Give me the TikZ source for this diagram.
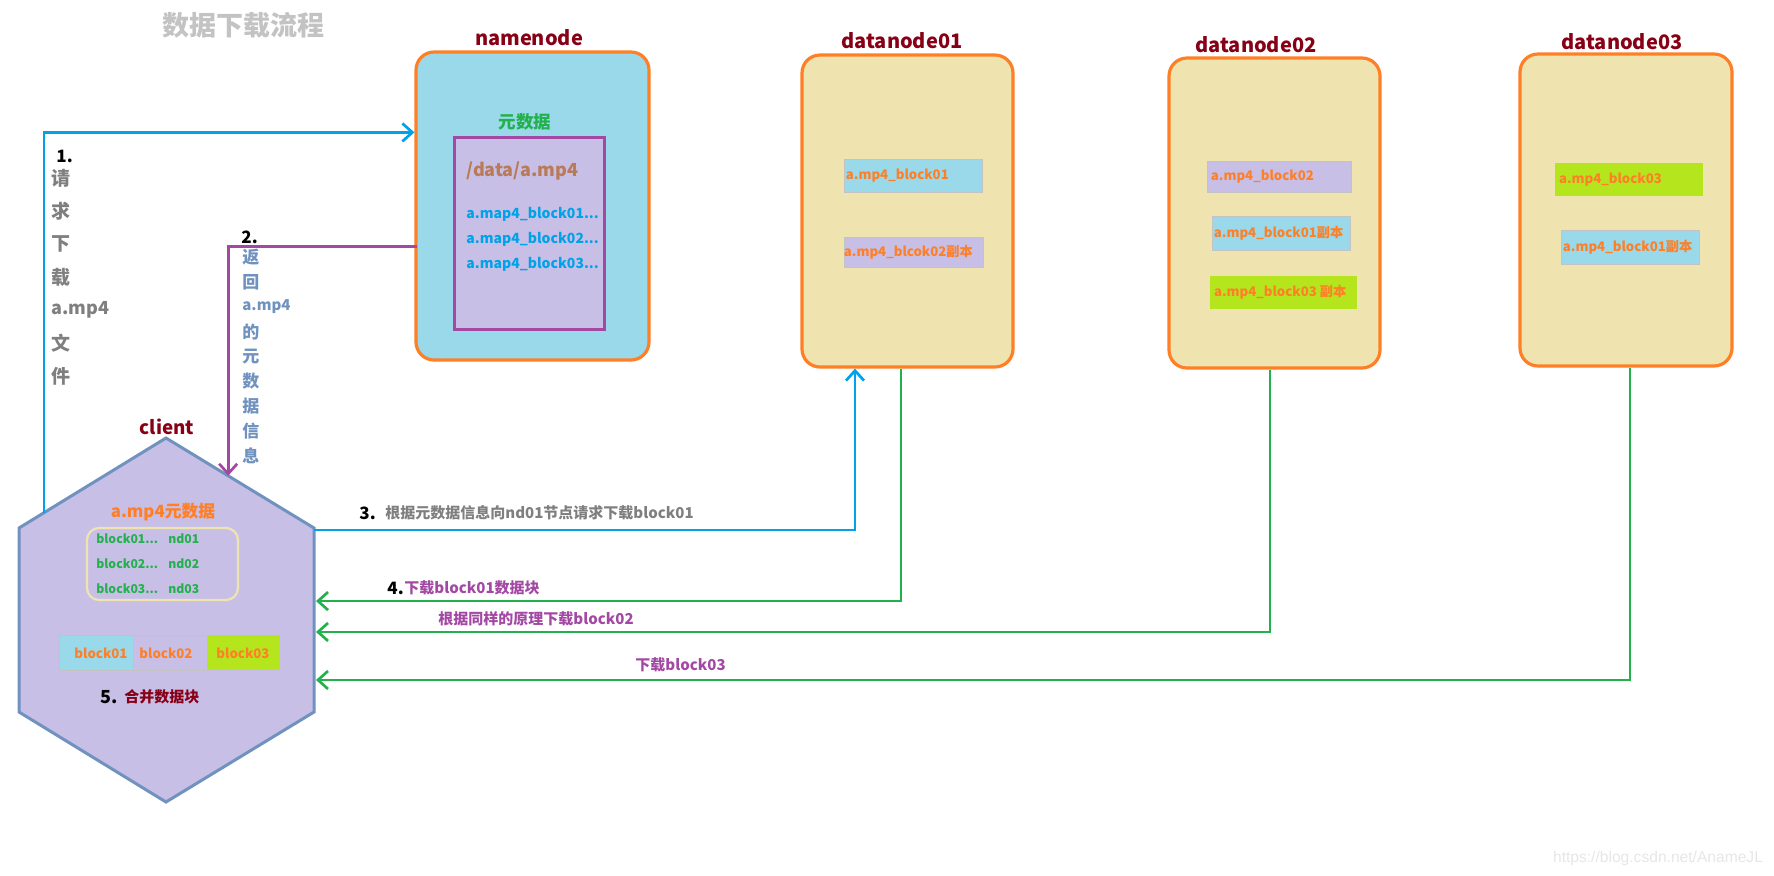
\documentclass[tikz,border=0pt]{standalone}
\usepackage{fontspec}
\setmainfont{Noto Sans CJK SC}
\newfontfamily\wmfont{Liberation Sans}
\usetikzlibrary{arrows.meta,fit,calc}
\definecolor{cyanfill}{HTML}{99D9EA}
\definecolor{orangeC}{HTML}{FF7F27}
\definecolor{lilac}{HTML}{C8BFE7}
\definecolor{plum}{HTML}{A349A4}
\definecolor{tanC}{HTML}{EFE4B0}
\definecolor{limeC}{HTML}{B5E61D}
\definecolor{greenC}{HTML}{22B14C}
\definecolor{blueC}{HTML}{00A2E8}
\definecolor{darkredC}{HTML}{880015}
\definecolor{steel}{HTML}{7092BE}
\definecolor{grayC}{HTML}{7F7F7F}
\definecolor{titlegray}{HTML}{C3C3C3}
\definecolor{brownC}{HTML}{B97A57}
\definecolor{edgegray}{HTML}{C3C3C3}
\definecolor{wmgray}{HTML}{E6E6E6}
\newcommand\fsz[1]{\fontsize{#1}{#1}\selectfont\bfseries}
\begin{document}
\begin{tikzpicture}[x=0.5pt,y=-0.5pt,
  txt/.style={inner sep=0pt},
  store/.style={draw=orangeC, line width=1.6pt, rounded corners=9pt, inner sep=0pt},
  blk/.style={draw=edgegray, line width=0.5pt, inner sep=0pt},
  blklbl/.style={txt, anchor=west, text=orangeC, font=\fsz{6.6pt}},
  conn/.style={line width=1.35pt, -{Straight Barb[length=5pt,width=9pt]}},
  numlbl/.style={txt, anchor=west, text=black, font=\fsz{8.5pt}},
  ]
\useasboundingbox (0,0) rectangle (1774,875);

% title
\node[txt, text=titlegray, font=\fsz{13.5pt}] (title) at (243,25) {数据下载流程};

% namenode
\node[store, fill=cyanfill, fit={(416,52) (649,360)}] (nn) {};
\node[txt, text=darkredC, font=\fsz{10pt}] (nnlbl) at (529,38) {namenode};
\node[txt, text=greenC, font=\fsz{8.75pt}] (meta) at (525,122) {元数据};
\node[draw=plum, line width=1.5pt, fill=lilac, inner sep=0pt, fit={(454,137) (604,329)}] (mbox) {};
\node[txt, anchor=west, text=brownC, font=\fsz{9pt}] (fpath) at (466,171) {/data/a.mp4};
\foreach \i/\yy in {1/214,2/239,3/264}
  \node[txt, anchor=west, text=blueC, font=\fsz{7pt}] (mb\i) at (466,\yy) {a.map4\_block0\i...};

% datanodes
\node[store, fill=tanC, fit={(802,55) (1013,367)}] (dn1) {};
\node[store, fill=tanC, fit={(1169,58) (1380,368)}] (dn2) {};
\node[store, fill=tanC, fit={(1520,54) (1732,366)}] (dn3) {};
\node[txt, text=darkredC, font=\fsz{10pt}] (dn1lbl) at (902,41) {datanode01};
\node[txt, text=darkredC, font=\fsz{10pt}] (dn2lbl) at (1256,45) {datanode02};
\node[txt, text=darkredC, font=\fsz{10pt}] (dn3lbl) at (1622,42) {datanode03};

\node[blk, fill=cyanfill, fit={(844,159) (982,192)}] (d1b1) {};
\node[blklbl] (d1b1t) at ([xshift=1pt]d1b1.west) {a.mp4\_block01};
\node[blk, fill=lilac, fit={(844,237) (983,267)}] (d1b2) {};
\node[blklbl] (d1b2t) at ([xshift=0pt]d1b2.west) {a.mp4\_blcok02副本};

\node[blk, fill=lilac, fit={(1207,161) (1351,192)}] (d2b1) {};
\node[blklbl] (d2b1t) at ([xshift=2pt]d2b1.west) {a.mp4\_block02};
\node[blk, fill=cyanfill, fit={(1212,216) (1350,250)}] (d2b2) {};
\node[blklbl] (d2b2t) at ([xshift=1pt]d2b2.west) {a.mp4\_block01副本};
\node[inner sep=0pt, fill=limeC, fit={(1210,276) (1357,309)}] (d2b3) {};
\node[blklbl] (d2b3t) at ([xshift=2pt]d2b3.west) {a.mp4\_block03 副本};

\node[inner sep=0pt, fill=limeC, fit={(1555,163) (1703,196)}] (d3b1) {};
\node[blklbl] (d3b1t) at ([xshift=2pt]d3b1.west) {a.mp4\_block03};
\node[blk, fill=cyanfill, fit={(1561,230) (1699,264)}] (d3b2) {};
\node[blklbl] (d3b2t) at ([xshift=1pt]d3b2.west) {a.mp4\_block01副本};

% client hexagon
\coordinate (hx-t) at (166,438);
\coordinate (hx-ur) at (314,528);
\coordinate (hx-lr) at (314,712);
\coordinate (hx-b) at (166,802);
\coordinate (hx-ll) at (19,712);
\coordinate (hx-ul) at (19,528);
\draw[draw=steel, line width=1.5pt, fill=lilac] (hx-t) -- (hx-ur) -- (hx-lr) -- (hx-b) -- (hx-ll) -- (hx-ul) -- cycle;
\node[txt, text=darkredC, font=\fsz{9.4pt}] (cllbl) at (167,427) {client};
\node[txt, text=orangeC, font=\fsz{8.4pt}] (clmeta) at (163,512) {a.mp4元数据};
\node[draw=tanC, line width=1.1pt, rounded corners=6pt, inner sep=0pt, fit={(87,528) (238,600)}] (clbox) {};
\foreach \i/\yy in {1/539,2/564,3/589}{
  \node[txt, anchor=west, text=greenC, font=\fsz{6.1pt}] (clb\i) at (96,\yy) {block0\i...};
  \node[txt, anchor=west, text=greenC, font=\fsz{6.1pt}] (cln\i) at (168,\yy) {nd0\i};
}
\node[blk, fill=cyanfill, fit={(59,635) (133,670)}] (cb1) {};
\node[blk, fill=lilac, fit={(133,635) (207,670)}] (cb2) {};
\node[inner sep=0pt, fill=limeC, fit={(207,635) (280,670)}] (cb3) {};
\node[txt, text=orangeC, font=\fsz{6.6pt}] (cb1t) at (101,653) {block01};
\node[txt, text=orangeC, font=\fsz{6.6pt}] (cb2t) at (166,653) {block02};
\node[txt, text=orangeC, font=\fsz{6.6pt}] (cb3t) at (243,653) {block03};
\node[numlbl, font=\fsz{9pt}] (n5) at (100,697) {5.};
\node[txt, anchor=west, text=darkredC, font=\fsz{7.5pt}] (n5t) at (124,697) {合并数据块};

% step 1
\coordinate (s1a) at ($(hx-ul)!0.17!(hx-t)$);
\draw[conn, blueC] (s1a) |- ([yshift=-41pt]nn.north west);
\node[numlbl] (n1) at (56,156) {1.};
\foreach \t/\fs [count=\k] in {请/9.5pt,求/9.5pt,下/9.5pt,载/9.5pt,a.mp4/9pt,文/9.5pt,件/9.5pt}
  \node[txt, anchor=west, text=grayC, font=\fsz{\fs}] (v1-\k) at (51,{178+33*(\k-1)}) {\t};

% step 2
\coordinate (s2b) at ($(hx-t)!0.42!(hx-ur)$);
\draw[conn, plum] ([shift={(1.5pt,-98pt)}]nn.north west) -| (s2b);
\node[numlbl] (n2) at (241,237) {2.};
\foreach \t/\fs [count=\k] in {返/8.5pt,回/8.5pt,a.mp4/7.5pt,的/8.5pt,元/8.5pt,数/8.5pt,据/8.5pt,信/8.5pt,息/8.5pt}
  \node[txt, anchor=west, text=steel, font=\fsz{\fs}] (v2-\k) at (242,{257+24.9*(\k-1)}) {\t};

% step 3
\draw[conn, blueC] ([yshift=-1pt]hx-ur) -| ([xshift=-26.25pt]dn1.south);
\node[numlbl] (n3) at (359,513) {3.};
\node[txt, anchor=west, text=grayC, font=\fsz{7.5pt}] (n3t) at (385,513) {根据元数据信息向nd01节点请求下载block01};

% step 4 and returns
\draw[conn, greenC] ([xshift=-3.25pt]dn1.south) |- ([xshift=1pt]$(hx-ur)!0.397!(hx-lr)$);
\draw[conn, greenC] ([xshift=-2.25pt]dn2.south) |- ([xshift=1pt]$(hx-ur)!0.565!(hx-lr)$);
\draw[conn, greenC] ([xshift=2pt]dn3.south) |- ([xshift=1pt]$(hx-ur)!0.826!(hx-lr)$);
\node[numlbl] (n4) at (387,588) {4.};
\node[txt, anchor=west, text=plum, font=\fsz{7.5pt}] (n4t) at (404,588) {下载block01数据块};
\node[txt, anchor=west, text=plum, font=\fsz{7.5pt}] (l5) at (438,619) {根据同样的原理下载block02};
\node[txt, anchor=west, text=plum, font=\fsz{7.5pt}] (l6) at (635,665) {下载block03};

% watermark
\node[txt, text=wmgray, font=\wmfont\fontsize{7.8pt}{7.8pt}\selectfont] (wm) at (1658,858) {https://blog.csdn.net/AnameJL};
\end{tikzpicture}
\end{document}
